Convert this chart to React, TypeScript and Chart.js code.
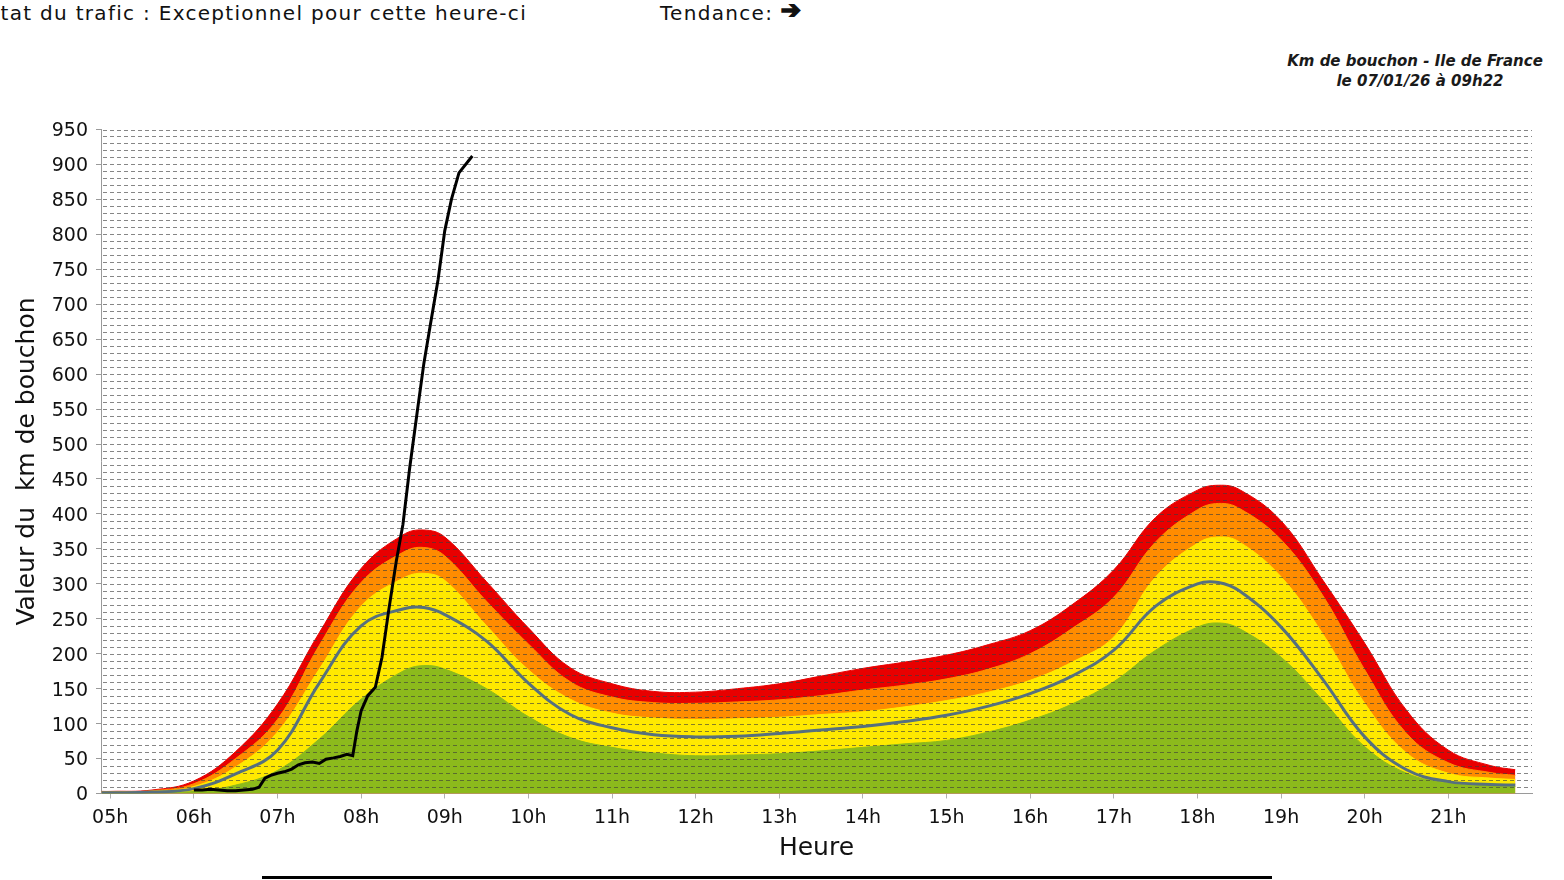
import React, { useEffect, useRef } from 'react';
import { Chart, registerables } from 'chart.js';

Chart.register(...registerables);

// Hours (decimal) of the reference curves
const times = [4.9, 5, 5.5, 6, 6.5, 7, 7.5, 8, 8.5, 8.75, 9, 9.5, 10, 10.5, 11, 11.5, 12, 12.5, 13, 13.5, 14, 14.5, 15, 15.5, 16, 16.5, 17, 17.5, 18, 18.25, 18.5, 19, 19.5, 20, 20.5, 21, 21.5, 21.8];

// Upper bound of each band (km)
const redTop = [3, 3, 5, 18, 60, 128, 230, 322, 370, 377, 367, 303, 237, 180, 157, 146, 145, 150, 157, 168, 179, 188, 198, 213, 233, 270, 320, 395, 434, 441, 435, 390, 305, 215, 119, 62, 40, 34];
const orangeTop = [2.5, 2.5, 4, 14, 50, 106, 212, 302, 345, 352, 340, 275, 214, 160, 138, 130, 129, 131, 134, 140, 148, 155, 164, 178, 200, 236, 281, 360, 406, 415, 408, 363, 283, 177, 86, 44, 30, 26];
const yellowTop = [2, 2, 3, 10, 38, 88, 178, 268, 308, 315, 305, 240, 177, 135, 115, 108, 106, 107, 109, 113, 117, 124, 133, 145, 162, 188, 224, 310, 358, 367, 360, 310, 228, 129, 58, 29, 22, 20];
const greenTop = [0.5, 0.5, 1, 3, 12, 33, 78, 135, 175, 183, 178, 150, 110, 80, 66, 58, 54, 55, 57, 61, 66, 71, 76, 88, 105, 128, 160, 205, 238, 244, 236, 195, 133, 67, 29, 15, 11, 10];
// Usual value (grey line)
const usualLine = [1, 1, 2, 7, 28, 62, 158, 240, 264, 266, 256, 218, 158, 113, 94, 84, 81, 82, 86, 91, 96, 103, 112, 125, 143, 168, 205, 268, 300, 302, 290, 238, 163, 81, 34, 17, 13, 12];

// Today's measured value (black line)
const todayTimes = [6.0, 6.1, 6.2, 6.3, 6.4, 6.5, 6.6, 6.7, 6.78, 6.85, 6.92, 7.0, 7.08, 7.17, 7.25, 7.33, 7.42, 7.5, 7.58, 7.67, 7.75, 7.83, 7.9, 7.95, 8.0, 8.08, 8.17, 8.25, 8.33, 8.42, 8.5, 8.58, 8.67, 8.75, 8.83, 8.92, 9.0, 9.08, 9.17, 9.33];
const todayValues = [5, 5, 6, 5, 4, 4, 5, 6, 9, 22, 26, 29, 31, 35, 41, 44, 45, 43, 49, 51, 53, 56, 54, 90, 118, 140, 152, 195, 262, 332, 385, 465, 545, 615, 672, 735, 805, 850, 888, 912];

const hourTicks = [5, 6, 7, 8, 9, 10, 11, 12, 13, 14, 15, 16, 17, 18, 19, 20, 21];
const hourLabels = ['05h', '06h', '07h', '08h', '09h', '10h', '11h', '12h', '13h', '14h', '15h', '16h', '17h', '18h', '19h', '20h', '21h'];

const Y_MAX = 950;
const Y_LABEL_STEP = 50;
const GRID_STEP = 10;

const dashedGrid = {
  id: 'dashedGrid',
  beforeDatasetDraw(chart: any, args: any) {
    if (args.index !== 1) return;
    const { ctx, chartArea, scales } = chart;
    const y = scales.y;
    ctx.save();
    ctx.strokeStyle = 'rgba(60,60,60,0.62)';
    ctx.lineWidth = 1;
    ctx.setLineDash([4, 3]);
    for (let v = GRID_STEP; v <= Y_MAX; v += GRID_STEP) {
      const py = Math.round(y.getPixelForValue(v)) + 0.5;
      ctx.beginPath();
      ctx.moveTo(chartArea.left + 2, py);
      ctx.lineTo(chartArea.right, py);
      ctx.stroke();
    }
    ctx.restore();
  },
};

export default function App() {
  const ref = useRef<HTMLCanvasElement>(null);

  useEffect(() => {
    if (!ref.current) return;
    Chart.defaults.font.family = "'DejaVu Sans', Verdana, sans-serif";
    const pts = (vals: number[]) => times.map((t, i) => ({ x: t, y: vals[i] }));
    const band = (label: string, vals: number[], color: string) => ({
      label,
      data: pts(vals),
      borderColor: color,
      backgroundColor: color,
      borderWidth: 1,
      pointRadius: 0,
      tension: 0.4,
      fill: 'origin',
    });
    const chart = new Chart(ref.current, {
      type: 'line',
      data: {
        datasets: [
          {
            label: "Aujourd'hui",
            data: todayTimes.map((t, i) => ({ x: t, y: todayValues[i] })),
            borderColor: '#000000',
            borderWidth: 3,
            pointRadius: 0,
            tension: 0,
            fill: false,
          },
          {
            label: 'Habituel',
            data: pts(usualLine),
            borderColor: '#56707e',
            borderWidth: 3,
            pointRadius: 0,
            tension: 0.4,
            fill: false,
          },
          band('Fluide', greenTop, '#8cba1c'),
          band('Dense', yellowTop, '#ffe900'),
          band('Chargé', orangeTop, '#ff8c00'),
          band('Exceptionnel', redTop, '#e80000'),
        ] as any,
      },
      options: {
        responsive: false,
        animation: false,
        events: [],
        layout: { padding: { left: 0, top: 129.5, right: 32, bottom: 14 } },
        plugins: {
          legend: { display: false },
          tooltip: { enabled: false },
        },
        scales: {
          x: {
            type: 'linear',
            min: 4.89,
            max: 22,
            afterFit: (s: any) => {
              s.height = 72.5;
            },
            afterBuildTicks: (s: any) => {
              s.ticks = hourTicks.map((v) => ({ value: v }));
            },
            ticks: {
              autoSkip: false,
              maxRotation: 0,
              padding: 8,
              color: '#111',
              font: { size: 19 },
              callback: (v: any) => hourLabels[hourTicks.indexOf(Number(v))] ?? '',
            },
            grid: { drawOnChartArea: false, drawTicks: true, tickLength: 5, color: '#b0b0b0' },
            border: { display: true, color: '#9a9a9a', width: 1 },
            title: { display: true, text: 'Heure', color: '#111', font: { size: 25 }, padding: { top: 0, bottom: 3 } },
          },
          y: {
            min: 0,
            max: Y_MAX,
            afterFit: (s: any) => {
              s.width = 101;
            },
            ticks: {
              stepSize: Y_LABEL_STEP,
              padding: 8,
              labelOffset: 2,
              color: '#111',
              font: { size: 19 },
            },
            grid: { drawOnChartArea: false, drawTicks: true, tickLength: 5, color: '#9a9a9a' },
            border: { display: true, color: '#9a9a9a', width: 1 },
            title: { display: true, text: 'Valeur du  km de bouchon', color: '#111', font: { size: 25 }, padding: { top: 12, bottom: 0 } },
          },
        },
      },
      plugins: [dashedGrid],
    });
    return () => chart.destroy();
  }, []);

  const font = "'DejaVu Sans', Verdana, sans-serif";
  return (
    <div style={{ position: 'fixed', left: 0, top: 0, width: 1564, height: 880, overflow: 'hidden', background: '#fff', fontFamily: font }}>
      <div style={{ position: 'absolute', right: 1564 - 527, top: 0, whiteSpace: 'nowrap', fontSize: 20, letterSpacing: 1.3, lineHeight: '26px', color: '#111' }}>
        Etat du trafic : Exceptionnel pour cette heure-ci
      </div>
      <div style={{ position: 'absolute', left: 660, top: 0, whiteSpace: 'nowrap', fontSize: 20, letterSpacing: 1.3, lineHeight: '26px', color: '#111' }}>
        Tendance:{' '}
        <span style={{ fontWeight: 'bold', fontSize: 24, lineHeight: '20px', verticalAlign: 'top', letterSpacing: 0, WebkitTextStroke: '1.6px #111' }}>➔</span>
      </div>
      <div style={{ position: 'absolute', left: 1265, width: 300, top: 51, textAlign: 'center', fontSize: 15, fontWeight: 'bold', lineHeight: '20px', fontStyle: 'italic', color: '#1a1a1a' }}>
        <div>Km de bouchon - Ile de France</div>
        <div style={{ paddingLeft: 10 }}>le 07/01/26 à 09h22</div>
      </div>
      <canvas ref={ref} width={1564} height={880} style={{ position: 'absolute', left: 0, top: 0, width: 1564, height: 880 }} />
      <div style={{ position: 'absolute', left: 262, top: 876, width: 1010, height: 3, background: '#000' }} />
    </div>
  );
}
